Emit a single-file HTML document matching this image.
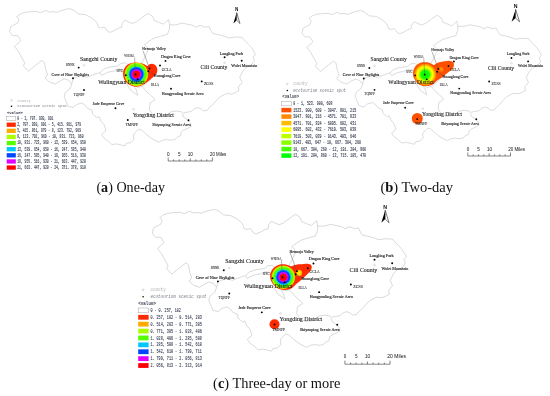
<!DOCTYPE html>
<html lang="en"><head><meta charset="utf-8"><title>Kernel density maps</title>
<style>html,body{margin:0;padding:0;background:#fff;overflow:hidden}svg{display:block}.lb{font-family:"Liberation Serif",serif;fill:#1a1a1a;stroke:#1a1a1a;stroke-width:0.1px}.lm{font-family:"Liberation Serif",serif;fill:#161616;stroke:#161616;stroke-width:0.11px}.ls{font-family:"Liberation Serif",serif;fill:#222;stroke:#222;stroke-width:0.06px}.cap{font-family:"Liberation Serif",serif;fill:#111}</style></head><body>
<svg width="550" height="396" viewBox="0 0 550 396">
<defs><filter id="soft" x="-5%" y="-5%" width="110%" height="110%"><feGaussianBlur stdDeviation="0.38"/></filter><filter id="soft2" x="-10%" y="-10%" width="120%" height="120%"><feGaussianBlur stdDeviation="0.4"/></filter></defs>
<rect width="550" height="396" fill="#fff"/>
<g filter="url(#soft)">
<!-- map a -->
<g transform="translate(0 0) scale(1.0)">
<polygon points="16.7,16.5 20.3,14 24.1,12.5 30.4,11.7 36.2,11.5 40.6,12.7 45.7,10.4 49.5,12.1 52.7,11.5 56.5,12.5 61,10.8 64.8,9.5 69.9,8.6 73.8,10.2 78.3,14 85.3,14.6 91.6,17.8 96.7,22.3 98.6,27.4 101.2,28 104.4,27 107.5,31.2 110.1,32.4 114.5,30.5 118.3,28.2 121.5,27.4 122.2,23.5 124.7,20.1 127.9,21.6 132.3,23.5 136.2,21.9 140.1,19.1 145.2,15.3 148.4,13.4 152.8,16.5 154.1,20.4 158.5,22.3 163.6,24.2 166.2,21.6 168.7,19.7 169.6,24.8 175.7,24.8 182.1,23.2 188.4,24.4 192.9,25.4 196.1,27.4 200.1,25.3 205.2,27.2 209,26.5 210.9,30.4 212.8,33.5 219.2,34.8 225.5,36.7 228.7,38 235.7,37 242.1,37.4 245.9,41.8 250.3,46.3 253.5,50.7 255.4,54.5 253,57 254.5,60.5 251.5,65 246.4,67.1 242.7,71.5 239.8,77.3 242,82.5 238.3,87 239,90.5 235.5,92.6 231.8,94 226.4,93.6 220,96.9 216.2,100.7 212.3,105.2 209.2,107.7 207.3,110.3 203.4,110.9 200.3,108.4 197.1,107.7 193.9,109 191.4,111.5 186.9,112.2 183.7,112.8 182.4,114.1 183.7,117.3 187.5,119.8 190.1,122.4 191.3,126.2 188.2,128.1 183.7,130 181.2,131.9 180.5,135.7 177.4,137 174.8,139.5 171,140.2 166.5,139.5 162.7,140.2 158.9,142.1 153.3,139.5 148.6,136.3 144.8,133.1 141.6,129.9 138.4,129.3 135.9,131.8 133.3,135 134,139.4 130.8,142.6 126.3,143.3 125.1,145.8 121.9,145.2 116.8,143.9 111.7,144.5 108.5,141.3 104.1,138.2 101.5,134.4 106,130.5 104.1,124.8 100.9,121 99,116.5 97.1,117.8 92.6,114 92,110.2 87.5,108.3 85,105.1 82,103 76.9,104.4 73.1,107.5 68,106.3 66.1,101.2 64.2,96.7 65.4,92.3 69.9,89 71.8,84 68.6,80.2 64.2,78.9 60.4,80.8 55.3,84 49.5,82 45,78.2 47.6,75 45.7,69.3 44.4,62.3 41.9,60.4 35.5,65.4 28.5,71.2 23.4,66.1 24.7,62.9 18.4,51.5 14.5,46.4 20.9,40.7 17.7,35.6 12.6,35.6 9.5,31.8 10.7,26.7 17.7,22.9 19,19.1" fill="#fff" stroke="#c2c2c2" stroke-width="0.6" stroke-linejoin="round"/>
<polyline points="71.8,84 73.1,78.3 76.9,77 82,75.7 87,77.3 90.9,75.7 96,73.8 100,72.6" fill="none" stroke="#c2c2c2" stroke-width="0.6" stroke-linejoin="round"/>
<polyline points="100,72.6 103.8,69 110,67 117.8,66 121,63.4 125.4,62.7 128,64.6 133,63.2 138,63.8 142,62.8" fill="none" stroke="#c2c2c2" stroke-width="0.6" stroke-linejoin="round"/>
<polyline points="100,72.6 101.3,75.4 107.6,72.3 114,71 119,69 123.5,69.7 125.5,77 127.4,85 131.2,90.7 135,93.3 137.8,95.4 136.3,90 133.7,85.6 138,87.5 142,86.3" fill="none" stroke="#c2c2c2" stroke-width="0.6" stroke-linejoin="round"/>
<polyline points="169.6,24.8 169.4,29.3 167.4,34.4 160.4,36.3 154.1,38.2 149,41.3 144.5,44.5 147.1,47.1 147.8,50.6 145,57 142,62.8" fill="none" stroke="#c2c2c2" stroke-width="0.6" stroke-linejoin="round"/>
<polyline points="142,62.8 146,66 149.5,70.5 153.9,75.4 149,81 145,84.5 142,86.3" fill="none" stroke="#c2c2c2" stroke-width="0.6" stroke-linejoin="round"/>
<polyline points="142,86.3 147,92 153.4,97.7 155,99.8 150,103 149.3,109.7 153,114.8 157.3,117 163,116.6 168.3,115.5 170.5,111.9 176.4,111 181.5,111.9 182.7,112.7" fill="none" stroke="#c2c2c2" stroke-width="0.6" stroke-linejoin="round"/>
</g>
<g filter="url(#soft2)">
<path d="M123.07 74.16 C123.07 72.88 123.2 71.4 123.63 70.12 C124.07 68.84 124.78 67.49 125.65 66.48 C126.53 65.47 127.67 64.66 128.89 64.06 C130.1 63.45 131.58 63.08 132.92 62.85 C134.27 62.62 135.62 62.62 136.96 62.68 C138.31 62.75 139.79 62.98 141 63.25 C142.21 63.52 143.22 63.86 144.23 64.3 C145.24 64.74 146.43 65.69 147.06 65.92 C147.69 66.14 147.63 65.94 148.03 65.67 C148.43 65.4 148.84 64.64 149.48 64.3 C150.13 63.96 151.1 63.63 151.91 63.65 C152.71 63.68 153.59 63.99 154.33 64.46 C155.07 64.93 155.85 65.61 156.35 66.48 C156.85 67.36 157.25 68.64 157.32 69.71 C157.39 70.79 157.12 72 156.75 72.94 C156.39 73.89 155.88 74.59 155.14 75.37 C154.4 76.15 153.16 76.91 152.31 77.63 C151.46 78.34 150.72 79.08 150.05 79.65 C149.38 80.21 148.97 80.46 148.27 81.02 C147.57 81.59 146.79 82.37 145.85 83.04 C144.91 83.71 143.69 84.52 142.62 85.06 C141.54 85.6 140.46 86 139.39 86.27 C138.31 86.54 137.37 86.7 136.16 86.68 C134.94 86.65 133.46 86.58 132.12 86.11 C130.77 85.64 129.22 84.7 128.08 83.85 C126.93 83 125.99 82.03 125.25 81.02 C124.51 80.01 124 78.93 123.63 77.79 C123.27 76.65 123.07 75.43 123.07 74.16Z" fill="#ff2a00"/>
<circle cx="136.4" cy="74.3" r="11.9" fill="#ffaa00"/>
<circle cx="136.4" cy="74.3" r="11.35" fill="#aaff00"/>
<circle cx="136.4" cy="74.3" r="10.3" fill="#55ff00"/>
<circle cx="136.4" cy="74.3" r="7.9" fill="#00c8ff"/>
<circle cx="136.4" cy="74.3" r="7" fill="#0046ff"/>
<circle cx="136.4" cy="74.3" r="5.1" fill="#e000ff"/>
<circle cx="136.4" cy="74.3" r="3.6" fill="#ff0000"/>
</g>
<g transform="translate(0 0) scale(1.0)">
<polyline points="134.6,57.6 135.5,74.4" fill="none" stroke="#555" stroke-width="0.45"/>
<polyline points="143,50.8 149.5,68.5" fill="none" stroke="#555" stroke-width="0.45"/>
<polyline points="154.5,75.4 148.3,71.3" fill="none" stroke="#555" stroke-width="0.45"/>
<circle cx="84" cy="65.3" r="0.9" fill="#fff" stroke="#bbb" stroke-width="0.45"/>
<circle cx="224.6" cy="62.7" r="0.9" fill="#fff" stroke="#bbb" stroke-width="0.45"/>
<circle cx="133.6" cy="109.3" r="0.9" fill="#fff" stroke="#bbb" stroke-width="0.45"/>
<circle cx="78.7" cy="67.6" r="0.95" fill="#000"/>
<circle cx="73" cy="78.3" r="0.95" fill="#000"/>
<circle cx="84" cy="90" r="0.95" fill="#000"/>
<circle cx="115.5" cy="108.3" r="0.95" fill="#000"/>
<circle cx="127.8" cy="120" r="0.95" fill="#000"/>
<circle cx="188.5" cy="120.2" r="0.95" fill="#000"/>
<circle cx="171" cy="88.7" r="0.95" fill="#000"/>
<circle cx="201.7" cy="81.4" r="0.95" fill="#000"/>
<circle cx="224.6" cy="57.3" r="0.95" fill="#000"/>
<circle cx="241.7" cy="60.8" r="0.95" fill="#000"/>
<circle cx="165.5" cy="60.9" r="0.95" fill="#000"/>
<circle cx="160" cy="65.5" r="0.95" fill="#000"/>
<circle cx="135.5" cy="74.4" r="0.95" fill="#000"/>
<circle cx="125.8" cy="75.2" r="0.95" fill="#000"/>
<circle cx="137.6" cy="79.2" r="0.95" fill="#000"/>
<circle cx="149.5" cy="68.5" r="0.95" fill="#000"/>
<circle cx="148.3" cy="71.3" r="0.95" fill="#000"/>
<text class="lb" x="80" y="60.59" font-size="5.9" textLength="37.3" lengthAdjust="spacingAndGlyphs">Sangzhi County</text>
<text class="lb" x="200.5" y="69.29" font-size="5.9" textLength="26.8" lengthAdjust="spacingAndGlyphs">Cili County</text>
<text class="lb" x="98.2" y="84.29" font-size="5.9" textLength="46.7" lengthAdjust="spacingAndGlyphs">Wulingyuan District</text>
<text class="lb" x="132.7" y="116.89" font-size="5.9" textLength="41.3" lengthAdjust="spacingAndGlyphs">Yongding District</text>
<text class="ls" x="66" y="66.06" font-size="3.3" textLength="8.5" lengthAdjust="spacingAndGlyphs">BNNR</text>
<text class="lm" x="51.5" y="75.64" font-size="4.5" textLength="37.5" lengthAdjust="spacingAndGlyphs">Cave of Nine Skylights</text>
<text class="ls" x="73.6" y="95.56" font-size="3.3" textLength="10.9" lengthAdjust="spacingAndGlyphs">TQNFP</text>
<text class="lm" x="92.7" y="104.74" font-size="4.5" textLength="31.5" lengthAdjust="spacingAndGlyphs">Jade Emperor Cave</text>
<text class="ls" x="125.5" y="126.06" font-size="3.3" textLength="12.7" lengthAdjust="spacingAndGlyphs">TMNFP</text>
<text class="lm" x="152.2" y="126.44" font-size="4.5" textLength="38.7" lengthAdjust="spacingAndGlyphs">Shiyanping Scenic Area</text>
<text class="lm" x="161.8" y="94.74" font-size="4.5" textLength="41.8" lengthAdjust="spacingAndGlyphs">Hongyanling Scenic Area</text>
<text class="ls" x="204" y="85.06" font-size="3.3" textLength="9.5" lengthAdjust="spacingAndGlyphs">ZGSS</text>
<text class="lm" x="219.7" y="54.64" font-size="4.5" textLength="23.3" lengthAdjust="spacingAndGlyphs">Longling Park</text>
<text class="lm" x="231.3" y="67.04" font-size="4.5" textLength="26" lengthAdjust="spacingAndGlyphs">Wulei Mountain</text>
<text class="lm" x="160.9" y="57.84" font-size="4.5" textLength="30" lengthAdjust="spacingAndGlyphs">Dragon King Cave</text>
<text class="ls" x="161.8" y="70.56" font-size="3.3" textLength="9.7" lengthAdjust="spacingAndGlyphs">GCLA</text>
<text class="lm" x="153.8" y="77.44" font-size="4.5" textLength="26.7" lengthAdjust="spacingAndGlyphs">Huanglong Cave</text>
<text class="ls" x="151" y="85.56" font-size="3.3" textLength="8" lengthAdjust="spacingAndGlyphs">BLLA</text>
<text class="lm" x="142.3" y="50.44" font-size="4.5" textLength="23.5" lengthAdjust="spacingAndGlyphs">Hermaja Valley</text>
<text class="ls" x="124.2" y="57.16" font-size="3.3" textLength="10.2" lengthAdjust="spacingAndGlyphs">WSHSA</text>
<text class="ls" x="116.4" y="72.36" font-size="3.3" textLength="6.5" lengthAdjust="spacingAndGlyphs">SPFG</text>
</g>
<!-- map b -->
<g transform="translate(292.7 2.2) scale(0.974)">
<polygon points="16.7,16.5 20.3,14 24.1,12.5 30.4,11.7 36.2,11.5 40.6,12.7 45.7,10.4 49.5,12.1 52.7,11.5 56.5,12.5 61,10.8 64.8,9.5 69.9,8.6 73.8,10.2 78.3,14 85.3,14.6 91.6,17.8 96.7,22.3 98.6,27.4 101.2,28 104.4,27 107.5,31.2 110.1,32.4 114.5,30.5 118.3,28.2 121.5,27.4 122.2,23.5 124.7,20.1 127.9,21.6 132.3,23.5 136.2,21.9 140.1,19.1 145.2,15.3 148.4,13.4 152.8,16.5 154.1,20.4 158.5,22.3 163.6,24.2 166.2,21.6 168.7,19.7 169.6,24.8 175.7,24.8 182.1,23.2 188.4,24.4 192.9,25.4 196.1,27.4 200.1,25.3 205.2,27.2 209,26.5 210.9,30.4 212.8,33.5 219.2,34.8 225.5,36.7 228.7,38 235.7,37 242.1,37.4 245.9,41.8 250.3,46.3 253.5,50.7 255.4,54.5 253,57 254.5,60.5 251.5,65 246.4,67.1 242.7,71.5 239.8,77.3 242,82.5 238.3,87 239,90.5 235.5,92.6 231.8,94 226.4,93.6 220,96.9 216.2,100.7 212.3,105.2 209.2,107.7 207.3,110.3 203.4,110.9 200.3,108.4 197.1,107.7 193.9,109 191.4,111.5 186.9,112.2 183.7,112.8 182.4,114.1 183.7,117.3 187.5,119.8 190.1,122.4 191.3,126.2 188.2,128.1 183.7,130 181.2,131.9 180.5,135.7 177.4,137 174.8,139.5 171,140.2 166.5,139.5 162.7,140.2 158.9,142.1 153.3,139.5 148.6,136.3 144.8,133.1 141.6,129.9 138.4,129.3 135.9,131.8 133.3,135 134,139.4 130.8,142.6 126.3,143.3 125.1,145.8 121.9,145.2 116.8,143.9 111.7,144.5 108.5,141.3 104.1,138.2 101.5,134.4 106,130.5 104.1,124.8 100.9,121 99,116.5 97.1,117.8 92.6,114 92,110.2 87.5,108.3 85,105.1 82,103 76.9,104.4 73.1,107.5 68,106.3 66.1,101.2 64.2,96.7 65.4,92.3 69.9,89 71.8,84 68.6,80.2 64.2,78.9 60.4,80.8 55.3,84 49.5,82 45,78.2 47.6,75 45.7,69.3 44.4,62.3 41.9,60.4 35.5,65.4 28.5,71.2 23.4,66.1 24.7,62.9 18.4,51.5 14.5,46.4 20.9,40.7 17.7,35.6 12.6,35.6 9.5,31.8 10.7,26.7 17.7,22.9 19,19.1" fill="#fff" stroke="#c2c2c2" stroke-width="0.6" stroke-linejoin="round"/>
<polyline points="71.8,84 73.1,78.3 76.9,77 82,75.7 87,77.3 90.9,75.7 96,73.8 100,72.6" fill="none" stroke="#c2c2c2" stroke-width="0.6" stroke-linejoin="round"/>
<polyline points="100,72.6 103.8,69 110,67 117.8,66 121,63.4 125.4,62.7 128,64.6 133,63.2 138,63.8 142,62.8" fill="none" stroke="#c2c2c2" stroke-width="0.6" stroke-linejoin="round"/>
<polyline points="100,72.6 101.3,75.4 107.6,72.3 114,71 119,69 123.5,69.7 125.5,77 127.4,85 131.2,90.7 135,93.3 137.8,95.4 136.3,90 133.7,85.6 138,87.5 142,86.3" fill="none" stroke="#c2c2c2" stroke-width="0.6" stroke-linejoin="round"/>
<polyline points="169.6,24.8 169.4,29.3 167.4,34.4 160.4,36.3 154.1,38.2 149,41.3 144.5,44.5 147.1,47.1 147.8,50.6 145,57 142,62.8" fill="none" stroke="#c2c2c2" stroke-width="0.6" stroke-linejoin="round"/>
<polyline points="142,62.8 146,66 149.5,70.5 153.9,75.4 149,81 145,84.5 142,86.3" fill="none" stroke="#c2c2c2" stroke-width="0.6" stroke-linejoin="round"/>
<polyline points="142,86.3 147,92 153.4,97.7 155,99.8 150,103 149.3,109.7 153,114.8 157.3,117 163,116.6 168.3,115.5 170.5,111.9 176.4,111 181.5,111.9 182.7,112.7" fill="none" stroke="#c2c2c2" stroke-width="0.6" stroke-linejoin="round"/>
</g>
<g filter="url(#soft2)">
<path d="M413 74.18 C413.03 73.2 413.08 71.83 413.45 70.55 C413.83 69.26 414.44 67.59 415.27 66.45 C416.11 65.32 417.24 64.41 418.45 63.73 C419.67 63.05 421.11 62.59 422.55 62.36 C423.98 62.14 425.65 62.14 427.09 62.36 C428.53 62.59 430.05 63.27 431.18 63.73 C432.32 64.18 433.23 65.02 433.91 65.09 C434.59 65.17 434.44 64.64 435.27 64.18 C436.11 63.73 437.39 62.85 438.91 62.36 C440.42 61.88 442.7 61.55 444.36 61.27 C446.03 61 447.62 60.7 448.91 60.73 C450.2 60.76 451.29 61.03 452.09 61.45 C452.89 61.88 453.42 62.59 453.73 63.27 C454.03 63.95 454.03 64.71 453.91 65.55 C453.79 66.38 453.53 67.44 453 68.27 C452.47 69.11 451.71 69.71 450.73 70.55 C449.74 71.38 448.3 72.29 447.09 73.27 C445.88 74.26 444.67 75.55 443.45 76.45 C442.24 77.36 440.88 78.05 439.82 78.73 C438.76 79.41 438 79.79 437.09 80.55 C436.18 81.3 435.42 82.48 434.36 83.27 C433.3 84.06 432.09 84.82 430.73 85.27 C429.36 85.73 427.7 86.03 426.18 86 C424.67 85.97 423.08 85.62 421.64 85.09 C420.2 84.56 418.68 83.8 417.55 82.82 C416.41 81.83 415.53 80.24 414.82 79.18 C414.11 78.12 413.58 77.29 413.27 76.45 C412.97 75.62 412.97 75.17 413 74.18Z" fill="#ff5000"/>
<radialGradient id="gs" gradientUnits="userSpaceOnUse" cx="441.2" cy="69.4" r="3"><stop offset="0" stop-color="#ff9a00"/><stop offset="0.5" stop-color="#ff8400"/><stop offset="1" stop-color="#ff5000"/></radialGradient>
<circle cx="441.2" cy="69.4" r="3" fill="url(#gs)"/>
<radialGradient id="gb" gradientUnits="userSpaceOnUse" cx="425.2" cy="74.6" r="11.4"><stop offset="0" stop-color="#00ff00"/><stop offset="0.35" stop-color="#0cff00"/><stop offset="0.41" stop-color="#44ff00"/><stop offset="0.49" stop-color="#99ff00"/><stop offset="0.6" stop-color="#ddff00"/><stop offset="0.69" stop-color="#ffff00"/><stop offset="0.78" stop-color="#ffd000"/><stop offset="0.84" stop-color="#ffaa00"/><stop offset="0.92" stop-color="#ff8800"/><stop offset="0.97" stop-color="#ff6000"/><stop offset="1" stop-color="#ff5000"/></radialGradient>
<circle cx="425.2" cy="74.6" r="11.4" fill="url(#gb)"/>
<circle cx="417.3" cy="118.5" r="5.5" fill="#ff5000"/>
</g>
<g transform="translate(292.7 2.2) scale(0.974)">
<polyline points="134.6,57.6 135.5,74.4" fill="none" stroke="#555" stroke-width="0.45"/>
<polyline points="143,50.8 149.5,68.5" fill="none" stroke="#555" stroke-width="0.45"/>
<polyline points="154.5,75.4 148.3,71.3" fill="none" stroke="#555" stroke-width="0.45"/>
<circle cx="84" cy="65.3" r="0.9" fill="#fff" stroke="#bbb" stroke-width="0.45"/>
<circle cx="224.6" cy="62.7" r="0.9" fill="#fff" stroke="#bbb" stroke-width="0.45"/>
<circle cx="133.6" cy="109.3" r="0.9" fill="#fff" stroke="#bbb" stroke-width="0.45"/>
<circle cx="78.7" cy="67.6" r="0.95" fill="#000"/>
<circle cx="73" cy="78.3" r="0.95" fill="#000"/>
<circle cx="84" cy="90" r="0.95" fill="#000"/>
<circle cx="115.5" cy="108.3" r="0.95" fill="#000"/>
<circle cx="127.8" cy="120" r="0.95" fill="#000"/>
<circle cx="188.5" cy="120.2" r="0.95" fill="#000"/>
<circle cx="171" cy="88.7" r="0.95" fill="#000"/>
<circle cx="201.7" cy="81.4" r="0.95" fill="#000"/>
<circle cx="224.6" cy="57.3" r="0.95" fill="#000"/>
<circle cx="241.7" cy="60.8" r="0.95" fill="#000"/>
<circle cx="165.5" cy="60.9" r="0.95" fill="#000"/>
<circle cx="160" cy="65.5" r="0.95" fill="#000"/>
<circle cx="135.5" cy="74.4" r="0.95" fill="#000"/>
<circle cx="125.8" cy="75.2" r="0.95" fill="#000"/>
<circle cx="137.6" cy="79.2" r="0.95" fill="#000"/>
<circle cx="149.5" cy="68.5" r="0.95" fill="#000"/>
<circle cx="148.3" cy="71.3" r="0.95" fill="#000"/>
<text class="lb" x="80" y="60.59" font-size="5.9" textLength="37.3" lengthAdjust="spacingAndGlyphs">Sangzhi County</text>
<text class="lb" x="200.5" y="69.29" font-size="5.9" textLength="26.8" lengthAdjust="spacingAndGlyphs">Cili County</text>
<text class="lb" x="98.2" y="84.29" font-size="5.9" textLength="46.7" lengthAdjust="spacingAndGlyphs">Wulingyuan District</text>
<text class="lb" x="132.7" y="116.89" font-size="5.9" textLength="41.3" lengthAdjust="spacingAndGlyphs">Yongding District</text>
<text class="ls" x="66" y="66.06" font-size="3.3" textLength="8.5" lengthAdjust="spacingAndGlyphs">BNNR</text>
<text class="lm" x="51.5" y="75.64" font-size="4.5" textLength="37.5" lengthAdjust="spacingAndGlyphs">Cave of Nine Skylights</text>
<text class="ls" x="73.6" y="95.56" font-size="3.3" textLength="10.9" lengthAdjust="spacingAndGlyphs">TQNFP</text>
<text class="lm" x="92.7" y="104.74" font-size="4.5" textLength="31.5" lengthAdjust="spacingAndGlyphs">Jade Emperor Cave</text>
<text class="ls" x="125.5" y="126.06" font-size="3.3" textLength="12.7" lengthAdjust="spacingAndGlyphs">TMNFP</text>
<text class="lm" x="152.2" y="126.44" font-size="4.5" textLength="38.7" lengthAdjust="spacingAndGlyphs">Shiyanping Scenic Area</text>
<text class="lm" x="161.8" y="94.74" font-size="4.5" textLength="41.8" lengthAdjust="spacingAndGlyphs">Hongyanling Scenic Area</text>
<text class="ls" x="204" y="85.06" font-size="3.3" textLength="9.5" lengthAdjust="spacingAndGlyphs">ZGSS</text>
<text class="lm" x="219.7" y="54.64" font-size="4.5" textLength="23.3" lengthAdjust="spacingAndGlyphs">Longling Park</text>
<text class="lm" x="231.3" y="67.04" font-size="4.5" textLength="26" lengthAdjust="spacingAndGlyphs">Wulei Mountain</text>
<text class="lm" x="160.9" y="57.84" font-size="4.5" textLength="30" lengthAdjust="spacingAndGlyphs">Dragon King Cave</text>
<text class="ls" x="161.8" y="70.56" font-size="3.3" textLength="9.7" lengthAdjust="spacingAndGlyphs">GCLA</text>
<text class="lm" x="153.8" y="77.44" font-size="4.5" textLength="26.7" lengthAdjust="spacingAndGlyphs">Huanglong Cave</text>
<text class="ls" x="151" y="85.56" font-size="3.3" textLength="8" lengthAdjust="spacingAndGlyphs">BLLA</text>
<text class="lm" x="142.3" y="50.44" font-size="4.5" textLength="23.5" lengthAdjust="spacingAndGlyphs">Hermaja Valley</text>
<text class="ls" x="124.2" y="57.16" font-size="3.3" textLength="10.2" lengthAdjust="spacingAndGlyphs">WSHSA</text>
<text class="ls" x="116.4" y="72.36" font-size="3.3" textLength="6.5" lengthAdjust="spacingAndGlyphs">SPFG</text>
</g>
<!-- map c -->
<g transform="translate(142.5 200.5) scale(1.033)">
<polygon points="16.7,16.5 20.3,14 24.1,12.5 30.4,11.7 36.2,11.5 40.6,12.7 45.7,10.4 49.5,12.1 52.7,11.5 56.5,12.5 61,10.8 64.8,9.5 69.9,8.6 73.8,10.2 78.3,14 85.3,14.6 91.6,17.8 96.7,22.3 98.6,27.4 101.2,28 104.4,27 107.5,31.2 110.1,32.4 114.5,30.5 118.3,28.2 121.5,27.4 122.2,23.5 124.7,20.1 127.9,21.6 132.3,23.5 136.2,21.9 140.1,19.1 145.2,15.3 148.4,13.4 152.8,16.5 154.1,20.4 158.5,22.3 163.6,24.2 166.2,21.6 168.7,19.7 169.6,24.8 175.7,24.8 182.1,23.2 188.4,24.4 192.9,25.4 196.1,27.4 200.1,25.3 205.2,27.2 209,26.5 210.9,30.4 212.8,33.5 219.2,34.8 225.5,36.7 228.7,38 235.7,37 242.1,37.4 245.9,41.8 250.3,46.3 253.5,50.7 255.4,54.5 253,57 254.5,60.5 251.5,65 246.4,67.1 242.7,71.5 239.8,77.3 242,82.5 238.3,87 239,90.5 235.5,92.6 231.8,94 226.4,93.6 220,96.9 216.2,100.7 212.3,105.2 209.2,107.7 207.3,110.3 203.4,110.9 200.3,108.4 197.1,107.7 193.9,109 191.4,111.5 186.9,112.2 183.7,112.8 182.4,114.1 183.7,117.3 187.5,119.8 190.1,122.4 191.3,126.2 188.2,128.1 183.7,130 181.2,131.9 180.5,135.7 177.4,137 174.8,139.5 171,140.2 166.5,139.5 162.7,140.2 158.9,142.1 153.3,139.5 148.6,136.3 144.8,133.1 141.6,129.9 138.4,129.3 135.9,131.8 133.3,135 134,139.4 130.8,142.6 126.3,143.3 125.1,145.8 121.9,145.2 116.8,143.9 111.7,144.5 108.5,141.3 104.1,138.2 101.5,134.4 106,130.5 104.1,124.8 100.9,121 99,116.5 97.1,117.8 92.6,114 92,110.2 87.5,108.3 85,105.1 82,103 76.9,104.4 73.1,107.5 68,106.3 66.1,101.2 64.2,96.7 65.4,92.3 69.9,89 71.8,84 68.6,80.2 64.2,78.9 60.4,80.8 55.3,84 49.5,82 45,78.2 47.6,75 45.7,69.3 44.4,62.3 41.9,60.4 35.5,65.4 28.5,71.2 23.4,66.1 24.7,62.9 18.4,51.5 14.5,46.4 20.9,40.7 17.7,35.6 12.6,35.6 9.5,31.8 10.7,26.7 17.7,22.9 19,19.1" fill="#fff" stroke="#c2c2c2" stroke-width="0.6" stroke-linejoin="round"/>
<polyline points="71.8,84 73.1,78.3 76.9,77 82,75.7 87,77.3 90.9,75.7 96,73.8 100,72.6" fill="none" stroke="#c2c2c2" stroke-width="0.6" stroke-linejoin="round"/>
<polyline points="100,72.6 103.8,69 110,67 117.8,66 121,63.4 125.4,62.7 128,64.6 133,63.2 138,63.8 142,62.8" fill="none" stroke="#c2c2c2" stroke-width="0.6" stroke-linejoin="round"/>
<polyline points="100,72.6 101.3,75.4 107.6,72.3 114,71 119,69 123.5,69.7 125.5,77 127.4,85 131.2,90.7 135,93.3 137.8,95.4 136.3,90 133.7,85.6 138,87.5 142,86.3" fill="none" stroke="#c2c2c2" stroke-width="0.6" stroke-linejoin="round"/>
<polyline points="169.6,24.8 169.4,29.3 167.4,34.4 160.4,36.3 154.1,38.2 149,41.3 144.5,44.5 147.1,47.1 147.8,50.6 145,57 142,62.8" fill="none" stroke="#c2c2c2" stroke-width="0.6" stroke-linejoin="round"/>
<polyline points="142,62.8 146,66 149.5,70.5 153.9,75.4 149,81 145,84.5 142,86.3" fill="none" stroke="#c2c2c2" stroke-width="0.6" stroke-linejoin="round"/>
<polyline points="142,86.3 147,92 153.4,97.7 155,99.8 150,103 149.3,109.7 153,114.8 157.3,117 163,116.6 168.3,115.5 170.5,111.9 176.4,111 181.5,111.9 182.7,112.7" fill="none" stroke="#c2c2c2" stroke-width="0.6" stroke-linejoin="round"/>
</g>
<g filter="url(#soft2)">
<path d="M270.18 277.09 C270.14 275.88 270.14 274.36 270.55 273 C270.95 271.64 271.76 270.05 272.64 268.91 C273.52 267.77 274.61 266.91 275.82 266.18 C277.03 265.45 278.55 264.85 279.91 264.55 C281.27 264.24 282.64 264.24 284 264.36 C285.36 264.48 286.88 264.94 288.09 265.27 C289.3 265.61 290.29 266.36 291.27 266.36 C292.26 266.36 292.79 265.61 294 265.27 C295.21 264.94 296.88 264.59 298.55 264.36 C300.21 264.14 302.33 263.98 304 263.91 C305.67 263.83 307.41 263.76 308.55 263.91 C309.68 264.06 310.29 264.36 310.82 264.82 C311.35 265.27 311.65 265.88 311.73 266.64 C311.8 267.39 311.73 268.38 311.27 269.36 C310.82 270.35 309.91 271.48 309 272.55 C308.09 273.61 306.95 274.67 305.82 275.73 C304.68 276.79 303.32 277.92 302.18 278.91 C301.05 279.89 300.06 280.73 299 281.64 C297.94 282.55 296.8 283.45 295.82 284.36 C294.83 285.27 294.15 286.26 293.09 287.09 C292.03 287.92 290.74 288.88 289.45 289.36 C288.17 289.85 286.88 290 285.36 290 C283.85 290 281.95 289.88 280.36 289.36 C278.77 288.85 277.11 287.89 275.82 286.91 C274.53 285.92 273.47 284.56 272.64 283.45 C271.8 282.35 271.23 281.33 270.82 280.27 C270.41 279.21 270.23 278.3 270.18 277.09Z" fill="#ff2a00"/>
<circle cx="299" cy="273" r="3.2" fill="#ffaa00"/>
<circle cx="299" cy="273" r="2" fill="#ffee00"/>
<circle cx="283.3" cy="277.2" r="11.8" fill="#ffaa00"/>
<circle cx="283.3" cy="277.2" r="11.25" fill="#aaff00"/>
<circle cx="283.3" cy="277.2" r="10.3" fill="#55ff00"/>
<circle cx="283.3" cy="277.2" r="8" fill="#00c8ff"/>
<circle cx="283.3" cy="277.2" r="6.9" fill="#0046ff"/>
<circle cx="283.3" cy="277.2" r="5.1" fill="#e000ff"/>
<circle cx="283.3" cy="277.2" r="3.5" fill="#ff0000"/>
<circle cx="274.5" cy="324.2" r="5" fill="#ff2a00"/>
</g>
<g transform="translate(142.5 200.5) scale(1.033)">
<polyline points="134.6,57.6 135.5,74.4" fill="none" stroke="#555" stroke-width="0.45"/>
<polyline points="143,50.8 149.5,68.5" fill="none" stroke="#555" stroke-width="0.45"/>
<polyline points="154.5,75.4 148.3,71.3" fill="none" stroke="#555" stroke-width="0.45"/>
<circle cx="84" cy="65.3" r="0.9" fill="#fff" stroke="#bbb" stroke-width="0.45"/>
<circle cx="224.6" cy="62.7" r="0.9" fill="#fff" stroke="#bbb" stroke-width="0.45"/>
<circle cx="133.6" cy="109.3" r="0.9" fill="#fff" stroke="#bbb" stroke-width="0.45"/>
<circle cx="78.7" cy="67.6" r="0.95" fill="#000"/>
<circle cx="73" cy="78.3" r="0.95" fill="#000"/>
<circle cx="84" cy="90" r="0.95" fill="#000"/>
<circle cx="115.5" cy="108.3" r="0.95" fill="#000"/>
<circle cx="127.8" cy="120" r="0.95" fill="#000"/>
<circle cx="188.5" cy="120.2" r="0.95" fill="#000"/>
<circle cx="171" cy="88.7" r="0.95" fill="#000"/>
<circle cx="201.7" cy="81.4" r="0.95" fill="#000"/>
<circle cx="224.6" cy="57.3" r="0.95" fill="#000"/>
<circle cx="241.7" cy="60.8" r="0.95" fill="#000"/>
<circle cx="165.5" cy="60.9" r="0.95" fill="#000"/>
<circle cx="160" cy="65.5" r="0.95" fill="#000"/>
<circle cx="135.5" cy="74.4" r="0.95" fill="#000"/>
<circle cx="125.8" cy="75.2" r="0.95" fill="#000"/>
<circle cx="137.6" cy="79.2" r="0.95" fill="#000"/>
<circle cx="149.5" cy="68.5" r="0.95" fill="#000"/>
<circle cx="148.3" cy="71.3" r="0.95" fill="#000"/>
<text class="lb" x="80" y="60.59" font-size="5.9" textLength="37.3" lengthAdjust="spacingAndGlyphs">Sangzhi County</text>
<text class="lb" x="200.5" y="69.29" font-size="5.9" textLength="26.8" lengthAdjust="spacingAndGlyphs">Cili County</text>
<text class="lb" x="98.2" y="84.29" font-size="5.9" textLength="46.7" lengthAdjust="spacingAndGlyphs">Wulingyuan District</text>
<text class="lb" x="132.7" y="116.89" font-size="5.9" textLength="41.3" lengthAdjust="spacingAndGlyphs">Yongding District</text>
<text class="ls" x="66" y="66.06" font-size="3.3" textLength="8.5" lengthAdjust="spacingAndGlyphs">BNNR</text>
<text class="lm" x="51.5" y="75.64" font-size="4.5" textLength="37.5" lengthAdjust="spacingAndGlyphs">Cave of Nine Skylights</text>
<text class="ls" x="73.6" y="95.56" font-size="3.3" textLength="10.9" lengthAdjust="spacingAndGlyphs">TQNFP</text>
<text class="lm" x="92.7" y="104.74" font-size="4.5" textLength="31.5" lengthAdjust="spacingAndGlyphs">Jade Emperor Cave</text>
<text class="ls" x="125.5" y="126.06" font-size="3.3" textLength="12.7" lengthAdjust="spacingAndGlyphs">TMNFP</text>
<text class="lm" x="152.2" y="126.44" font-size="4.5" textLength="38.7" lengthAdjust="spacingAndGlyphs">Shiyanping Scenic Area</text>
<text class="lm" x="161.8" y="94.74" font-size="4.5" textLength="41.8" lengthAdjust="spacingAndGlyphs">Hongyanling Scenic Area</text>
<text class="ls" x="204" y="85.06" font-size="3.3" textLength="9.5" lengthAdjust="spacingAndGlyphs">ZGSS</text>
<text class="lm" x="219.7" y="54.64" font-size="4.5" textLength="23.3" lengthAdjust="spacingAndGlyphs">Longling Park</text>
<text class="lm" x="231.3" y="67.04" font-size="4.5" textLength="26" lengthAdjust="spacingAndGlyphs">Wulei Mountain</text>
<text class="lm" x="160.9" y="57.84" font-size="4.5" textLength="30" lengthAdjust="spacingAndGlyphs">Dragon King Cave</text>
<text class="ls" x="161.8" y="70.56" font-size="3.3" textLength="9.7" lengthAdjust="spacingAndGlyphs">GCLA</text>
<text class="lm" x="153.8" y="77.44" font-size="4.5" textLength="26.7" lengthAdjust="spacingAndGlyphs">Huanglong Cave</text>
<text class="ls" x="151" y="85.56" font-size="3.3" textLength="8" lengthAdjust="spacingAndGlyphs">BLLA</text>
<text class="lm" x="142.3" y="50.44" font-size="4.5" textLength="23.5" lengthAdjust="spacingAndGlyphs">Hermaja Valley</text>
<text class="ls" x="124.2" y="57.16" font-size="3.3" textLength="10.2" lengthAdjust="spacingAndGlyphs">WSHSA</text>
<text class="ls" x="116.4" y="72.36" font-size="3.3" textLength="6.5" lengthAdjust="spacingAndGlyphs">SPFG</text>
</g>
<text x="236.7" y="11.4" font-family="'Liberation Sans', sans-serif" font-size="4.58" font-weight="bold" text-anchor="middle" fill="#111">N</text>
<polygon points="236.7,12.6 233.4,23.5 236.7,20.23" fill="#000"/>
<polygon points="236.7,12.6 240,23.5 236.7,20.23" fill="#fff" stroke="#000" stroke-width="0.5"/>
<text x="515.6" y="8.2" font-family="'Liberation Sans', sans-serif" font-size="5.21" font-weight="bold" text-anchor="middle" fill="#111">N</text>
<polygon points="515.6,9.4 511.6,21.8 515.6,18.08" fill="#000"/>
<polygon points="515.6,9.4 519.6,21.8 515.6,18.08" fill="#fff" stroke="#000" stroke-width="0.5"/>
<text x="385.2" y="209" font-family="'Liberation Sans', sans-serif" font-size="5.29" font-weight="bold" text-anchor="middle" fill="#111">N</text>
<polygon points="385.2,210.2 381.35,222.8 385.2,219.02" fill="#000"/>
<polygon points="385.2,210.2 389.05,222.8 385.2,219.02" fill="#fff" stroke="#000" stroke-width="0.5"/>
<path d="M168.2 157.5 V161 H212.4 V157.5 M173.72 161 V159.38 M179.25 161 V159.38 M184.78 161 V159.38 M190.3 161 V158.3 M195.82 161 V159.38 M201.35 161 V159.38 M206.88 161 V159.38" fill="none" stroke="#222" stroke-width="0.55"/>
<text x="168.4" y="155.66" font-family="'Liberation Sans', sans-serif" font-size="4.6" text-anchor="middle" fill="#111">0</text>
<text x="179.3" y="155.66" font-family="'Liberation Sans', sans-serif" font-size="4.6" text-anchor="middle" fill="#111">5</text>
<text x="190.3" y="155.66" font-family="'Liberation Sans', sans-serif" font-size="4.6" text-anchor="middle" fill="#111">10</text>
<text x="210" y="155.66" font-family="'Liberation Sans', sans-serif" font-size="4.6" textLength="16.3" lengthAdjust="spacingAndGlyphs" fill="#111">20 Miles</text>
<path d="M467.8 152.5 V156 H510.5 V152.5 M473.14 156 V154.38 M478.48 156 V154.38 M483.81 156 V154.38 M489.15 156 V153.3 M494.49 156 V154.38 M499.82 156 V154.38 M505.16 156 V154.38" fill="none" stroke="#222" stroke-width="0.55"/>
<text x="468" y="150.76" font-family="'Liberation Sans', sans-serif" font-size="4.6" text-anchor="middle" fill="#111">0</text>
<text x="478.5" y="150.76" font-family="'Liberation Sans', sans-serif" font-size="4.6" text-anchor="middle" fill="#111">5</text>
<text x="489.5" y="150.76" font-family="'Liberation Sans', sans-serif" font-size="4.6" text-anchor="middle" fill="#111">10</text>
<text x="508.2" y="150.76" font-family="'Liberation Sans', sans-serif" font-size="4.6" textLength="16.7" lengthAdjust="spacingAndGlyphs" fill="#111">20 Miles</text>
<path d="M344.9 360.7 V364.2 H390 V360.7 M350.54 364.2 V362.58 M356.17 364.2 V362.58 M361.81 364.2 V362.58 M367.45 364.2 V361.5 M373.09 364.2 V362.58 M378.73 364.2 V362.58 M384.36 364.2 V362.58" fill="none" stroke="#222" stroke-width="0.55"/>
<text x="345.1" y="358.36" font-family="'Liberation Sans', sans-serif" font-size="4.6" text-anchor="middle" fill="#111">0</text>
<text x="356.4" y="358.36" font-family="'Liberation Sans', sans-serif" font-size="4.6" text-anchor="middle" fill="#111">5</text>
<text x="367.6" y="358.36" font-family="'Liberation Sans', sans-serif" font-size="4.6" text-anchor="middle" fill="#111">10</text>
<text x="387.3" y="358.36" font-family="'Liberation Sans', sans-serif" font-size="4.6" textLength="18.7" lengthAdjust="spacingAndGlyphs" fill="#111">20 Miles</text>
<circle cx="11.5" cy="100.4" r="0.9" fill="none" stroke="#bbb" stroke-width="0.5"/>
<circle cx="11.5" cy="106.2" r="0.8" fill="#000"/>
<text x="17.2" y="101.62" font-family="'Liberation Mono', monospace" font-size="4.35" font-style="italic" fill="#aeb0b6" textLength="13.56" lengthAdjust="spacingAndGlyphs">county</text>
<text x="17.2" y="107.42" font-family="'Liberation Mono', monospace" font-size="4.35" font-style="italic" fill="#7c7f8a" textLength="49.72" lengthAdjust="spacingAndGlyphs">ecotourism scenic spot</text>
<text x="7" y="113.72" font-family="'Liberation Mono', monospace" font-size="4.35" fill="#3a4052" stroke="#3a4052" stroke-width="0.12" textLength="15.82" lengthAdjust="spacingAndGlyphs">&lt;value&gt;</text>
<rect x="6.7" y="116.45" width="9.1" height="4.3" fill="#ffffff" stroke="#999" stroke-width="0.45"/>
<text x="17.2" y="120.01" font-family="'Liberation Mono', monospace" font-size="4.69" fill="#454b5e" stroke="#454b5e" stroke-width="0.15" textLength="36.2" lengthAdjust="spacingAndGlyphs">0 - 2, 707. 930, 991</text>
<rect x="6.7" y="122.57" width="9.1" height="4.3" fill="#ff2a00"/>
<text x="17.2" y="126.13" font-family="'Liberation Mono', monospace" font-size="4.69" fill="#454b5e" stroke="#454b5e" stroke-width="0.15" textLength="63.8" lengthAdjust="spacingAndGlyphs">2, 707. 930, 991 - 5, 415. 861, 979</text>
<rect x="6.7" y="128.69" width="9.1" height="4.3" fill="#ffaa00"/>
<text x="17.2" y="132.25" font-family="'Liberation Mono', monospace" font-size="4.69" fill="#454b5e" stroke="#454b5e" stroke-width="0.15" textLength="63.8" lengthAdjust="spacingAndGlyphs">5, 415. 861, 979 - 8, 123. 792, 969</text>
<rect x="6.7" y="134.81" width="9.1" height="4.3" fill="#aaff00"/>
<text x="17.2" y="138.37" font-family="'Liberation Mono', monospace" font-size="4.69" fill="#454b5e" stroke="#454b5e" stroke-width="0.15" textLength="66.3" lengthAdjust="spacingAndGlyphs">8, 123. 792, 969 - 10, 831. 723, 960</text>
<rect x="6.7" y="140.93" width="9.1" height="4.3" fill="#55ff00"/>
<text x="17.2" y="144.49" font-family="'Liberation Mono', monospace" font-size="4.69" fill="#454b5e" stroke="#454b5e" stroke-width="0.15" textLength="68.6" lengthAdjust="spacingAndGlyphs">10, 831. 723, 960 - 13, 539. 654, 950</text>
<rect x="6.7" y="147.05" width="9.1" height="4.3" fill="#00c8ff"/>
<text x="17.2" y="150.61" font-family="'Liberation Mono', monospace" font-size="4.69" fill="#454b5e" stroke="#454b5e" stroke-width="0.15" textLength="68.6" lengthAdjust="spacingAndGlyphs">13, 539. 654, 950 - 16, 247. 585, 940</text>
<rect x="6.7" y="153.17" width="9.1" height="4.3" fill="#0046ff"/>
<text x="17.2" y="156.73" font-family="'Liberation Mono', monospace" font-size="4.69" fill="#454b5e" stroke="#454b5e" stroke-width="0.15" textLength="68.6" lengthAdjust="spacingAndGlyphs">16, 247. 585, 940 - 18, 955. 516, 930</text>
<rect x="6.7" y="159.29" width="9.1" height="4.3" fill="#e000ff"/>
<text x="17.2" y="162.85" font-family="'Liberation Mono', monospace" font-size="4.69" fill="#454b5e" stroke="#454b5e" stroke-width="0.15" textLength="68.6" lengthAdjust="spacingAndGlyphs">18, 955. 516, 930 - 21, 663. 447, 920</text>
<rect x="6.7" y="165.41" width="9.1" height="4.3" fill="#ff0000"/>
<text x="17.2" y="168.97" font-family="'Liberation Mono', monospace" font-size="4.69" fill="#454b5e" stroke="#454b5e" stroke-width="0.15" textLength="68.6" lengthAdjust="spacingAndGlyphs">21, 663. 447, 920 - 24, 371. 378, 910</text>
<circle cx="287.3" cy="84" r="0.9" fill="none" stroke="#bbb" stroke-width="0.5"/>
<circle cx="287.3" cy="90.5" r="0.8" fill="#000"/>
<text x="293.2" y="85.29" font-family="'Liberation Mono', monospace" font-size="4.62" font-style="italic" fill="#aeb0b6" textLength="14.4" lengthAdjust="spacingAndGlyphs">county</text>
<text x="293.2" y="91.79" font-family="'Liberation Mono', monospace" font-size="4.62" font-style="italic" fill="#7c7f8a" textLength="52.8" lengthAdjust="spacingAndGlyphs">ecotourism scenic spot</text>
<text x="282.3" y="98.19" font-family="'Liberation Mono', monospace" font-size="4.62" fill="#3a4052" stroke="#3a4052" stroke-width="0.12" textLength="16.8" lengthAdjust="spacingAndGlyphs">&lt;value&gt;</text>
<rect x="281.4" y="101.35" width="10" height="4.5" fill="#ffffff" stroke="#999" stroke-width="0.45"/>
<text x="293.2" y="105.12" font-family="'Liberation Mono', monospace" font-size="5.08" fill="#454b5e" stroke="#454b5e" stroke-width="0.15" textLength="39.2" lengthAdjust="spacingAndGlyphs">0 - 1, 523. 900, 608</text>
<rect x="281.4" y="107.85" width="10" height="4.5" fill="#ff5000"/>
<text x="293.2" y="111.62" font-family="'Liberation Mono', monospace" font-size="5.08" fill="#454b5e" stroke="#454b5e" stroke-width="0.15" textLength="63" lengthAdjust="spacingAndGlyphs">1523. 900, 609 - 3047. 801, 215</text>
<rect x="281.4" y="114.35" width="10" height="4.5" fill="#ff8800"/>
<text x="293.2" y="118.12" font-family="'Liberation Mono', monospace" font-size="5.08" fill="#454b5e" stroke="#454b5e" stroke-width="0.15" textLength="63" lengthAdjust="spacingAndGlyphs">3047. 801, 216 - 4571. 701, 823</text>
<rect x="281.4" y="120.85" width="10" height="4.5" fill="#ffbb00"/>
<text x="293.2" y="124.62" font-family="'Liberation Mono', monospace" font-size="5.08" fill="#454b5e" stroke="#454b5e" stroke-width="0.15" textLength="63" lengthAdjust="spacingAndGlyphs">4571. 701, 824 - 6095. 602, 431</text>
<rect x="281.4" y="127.35" width="10" height="4.5" fill="#ffff00"/>
<text x="293.2" y="131.12" font-family="'Liberation Mono', monospace" font-size="5.08" fill="#454b5e" stroke="#454b5e" stroke-width="0.15" textLength="63" lengthAdjust="spacingAndGlyphs">6095. 602, 432 - 7619. 503, 038</text>
<rect x="281.4" y="133.85" width="10" height="4.5" fill="#bbff00"/>
<text x="293.2" y="137.62" font-family="'Liberation Mono', monospace" font-size="5.08" fill="#454b5e" stroke="#454b5e" stroke-width="0.15" textLength="63" lengthAdjust="spacingAndGlyphs">7619. 503, 039 - 9143. 403, 646</text>
<rect x="281.4" y="140.35" width="10" height="4.5" fill="#88ff00"/>
<text x="293.2" y="144.12" font-family="'Liberation Mono', monospace" font-size="5.08" fill="#454b5e" stroke="#454b5e" stroke-width="0.15" textLength="67.7" lengthAdjust="spacingAndGlyphs">9143. 403, 647 - 10, 667. 304, 260</text>
<rect x="281.4" y="146.85" width="10" height="4.5" fill="#44ff00"/>
<text x="293.2" y="150.62" font-family="'Liberation Mono', monospace" font-size="5.08" fill="#454b5e" stroke="#454b5e" stroke-width="0.15" textLength="72.9" lengthAdjust="spacingAndGlyphs">10, 667. 304, 260 - 12, 191. 204, 860</text>
<rect x="281.4" y="153.35" width="10" height="4.5" fill="#00ff00"/>
<text x="293.2" y="157.12" font-family="'Liberation Mono', monospace" font-size="5.08" fill="#454b5e" stroke="#454b5e" stroke-width="0.15" textLength="72.9" lengthAdjust="spacingAndGlyphs">12, 191. 204, 860 - 13, 715. 105, 470</text>
<circle cx="143.1" cy="289.8" r="0.9" fill="none" stroke="#bbb" stroke-width="0.5"/>
<circle cx="143.1" cy="296.8" r="0.8" fill="#000"/>
<text x="150.4" y="291.17" font-family="'Liberation Mono', monospace" font-size="4.9" font-style="italic" fill="#aeb0b6" textLength="15.3" lengthAdjust="spacingAndGlyphs">county</text>
<text x="150.4" y="298.17" font-family="'Liberation Mono', monospace" font-size="4.9" font-style="italic" fill="#7c7f8a" textLength="56.1" lengthAdjust="spacingAndGlyphs">ecotourism scenic spot</text>
<text x="138.2" y="304.97" font-family="'Liberation Mono', monospace" font-size="4.9" fill="#3a4052" stroke="#3a4052" stroke-width="0.12" textLength="17.85" lengthAdjust="spacingAndGlyphs">&lt;value&gt;</text>
<rect x="138.2" y="308" width="10.4" height="4.8" fill="#ffffff" stroke="#999" stroke-width="0.45"/>
<text x="150.4" y="311.98" font-family="'Liberation Mono', monospace" font-size="5.26" fill="#454b5e" stroke="#454b5e" stroke-width="0.15" textLength="30.5" lengthAdjust="spacingAndGlyphs">0 - 0. 257, 102</text>
<rect x="138.2" y="314.89" width="10.4" height="4.8" fill="#ff2a00"/>
<text x="150.4" y="318.87" font-family="'Liberation Mono', monospace" font-size="5.26" fill="#454b5e" stroke="#454b5e" stroke-width="0.15" textLength="51.4" lengthAdjust="spacingAndGlyphs">0. 257, 102 - 0. 514, 203</text>
<rect x="138.2" y="321.78" width="10.4" height="4.8" fill="#ffaa00"/>
<text x="150.4" y="325.76" font-family="'Liberation Mono', monospace" font-size="5.26" fill="#454b5e" stroke="#454b5e" stroke-width="0.15" textLength="51.4" lengthAdjust="spacingAndGlyphs">0. 514, 203 - 0. 771, 305</text>
<rect x="138.2" y="328.67" width="10.4" height="4.8" fill="#aaff00"/>
<text x="150.4" y="332.65" font-family="'Liberation Mono', monospace" font-size="5.26" fill="#454b5e" stroke="#454b5e" stroke-width="0.15" textLength="51.4" lengthAdjust="spacingAndGlyphs">0. 771, 305 - 1. 028, 406</text>
<rect x="138.2" y="335.56" width="10.4" height="4.8" fill="#55ff00"/>
<text x="150.4" y="339.54" font-family="'Liberation Mono', monospace" font-size="5.26" fill="#454b5e" stroke="#454b5e" stroke-width="0.15" textLength="51.4" lengthAdjust="spacingAndGlyphs">1. 028, 406 - 1. 285, 508</text>
<rect x="138.2" y="342.45" width="10.4" height="4.8" fill="#00c8ff"/>
<text x="150.4" y="346.43" font-family="'Liberation Mono', monospace" font-size="5.26" fill="#454b5e" stroke="#454b5e" stroke-width="0.15" textLength="51.4" lengthAdjust="spacingAndGlyphs">1. 285, 508 - 1. 542, 610</text>
<rect x="138.2" y="349.34" width="10.4" height="4.8" fill="#0046ff"/>
<text x="150.4" y="353.32" font-family="'Liberation Mono', monospace" font-size="5.26" fill="#454b5e" stroke="#454b5e" stroke-width="0.15" textLength="51.4" lengthAdjust="spacingAndGlyphs">1. 542, 610 - 1. 799, 711</text>
<rect x="138.2" y="356.23" width="10.4" height="4.8" fill="#e000ff"/>
<text x="150.4" y="360.21" font-family="'Liberation Mono', monospace" font-size="5.26" fill="#454b5e" stroke="#454b5e" stroke-width="0.15" textLength="51.4" lengthAdjust="spacingAndGlyphs">1. 799, 711 - 2. 056, 813</text>
<rect x="138.2" y="363.12" width="10.4" height="4.8" fill="#ff0000"/>
<text x="150.4" y="367.1" font-family="'Liberation Mono', monospace" font-size="5.26" fill="#454b5e" stroke="#454b5e" stroke-width="0.15" textLength="51.4" lengthAdjust="spacingAndGlyphs">2. 056, 813 - 2. 313, 914</text>
</g>
<text class="cap" x="96.4" y="192" font-size="13.6" textLength="68.6" lengthAdjust="spacingAndGlyphs">(<tspan font-weight="bold">a</tspan>) One-day</text>
<text class="cap" x="380.4" y="192" font-size="13.6" textLength="72.6" lengthAdjust="spacingAndGlyphs">(<tspan font-weight="bold">b</tspan>) Two-day</text>
<text class="cap" x="213.1" y="388" font-size="13.6" textLength="127.3" lengthAdjust="spacingAndGlyphs">(<tspan font-weight="bold">c</tspan>) Three-day or more</text>
</svg></body></html>
